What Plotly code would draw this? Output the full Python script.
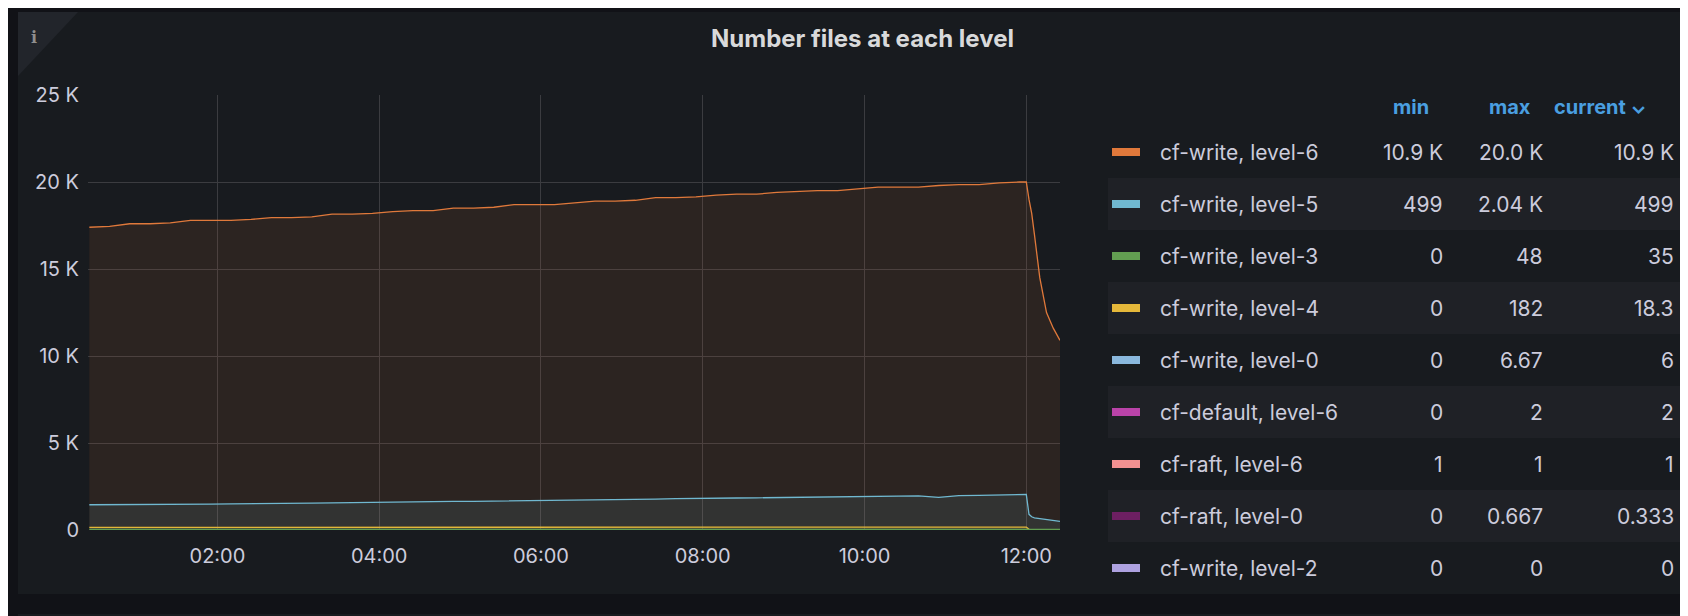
import plotly.graph_objects as go

W, H = 1688, 616
L, R, T, B = 80, 1052, 87, 522

times = ["00:25","00:40","00:55","01:10","01:25","01:40","01:55","02:10","02:25","02:40",
         "02:55","03:10","03:25","03:40","03:55","04:10","04:25","04:40","04:55","05:10",
         "05:25","05:40","05:55","06:10","06:25","06:40","06:55","07:10","07:25","07:40",
         "07:55","08:10","08:25","08:40","08:55","09:10","09:25","09:40","09:55","10:10",
         "10:25","10:40","10:55","11:10","11:25","11:40","11:55","12:00","12:02","12:04",
         "12:06","12:10","12:15","12:20","12:25"]

lvl6 = [17400,17450,17600,17600,17650,17800,17800,17800,17850,17950,
        17950,18000,18150,18150,18200,18300,18350,18350,18500,18500,
        18550,18700,18700,18700,18800,18900,18900,18950,19100,19100,
        19150,19250,19300,19300,19400,19450,19500,19500,19600,19700,
        19700,19700,19800,19850,19850,19950,20000,20000,19000,18200,
        17000,14500,12500,11600,10900]
lvl5 = [1450,1450,1460,1470,1480,1490,1490,1500,1500,1520,
        1530,1540,1560,1580,1590,1600,1610,1620,1640,1650,
        1660,1680,1690,1700,1720,1740,1760,1760,1780,1800,
        1800,1820,1840,1850,1860,1880,1900,1910,1920,1940,
        1950,1960,1880,1970,1990,2000,2040,2040,900,760,
        700,650,600,560,499]
lvl4 = [150,150,150,150,150,150,150,150,150,150,
        150,150,150,150,150,150,150,150,150,150,
        150,160,160,160,160,160,160,160,160,160,
        160,160,160,160,160,182,182,170,170,170,
        170,170,170,170,170,170,170,170,40,20,
        18,18,18,18,18.3]
lvl3 = [40,40,40,40,40,40,40,40,40,40,
        40,40,40,40,40,40,40,40,40,40,
        40,40,40,40,40,40,40,40,40,40,
        40,40,40,40,40,48,48,40,40,40,
        40,40,40,40,40,40,40,40,35,35,
        35,35,35,35,35]

series_names = ["cf-write, level-6","cf-write, level-5","cf-write, level-3","cf-write, level-4",
                "cf-write, level-0","cf-default, level-6","cf-raft, level-6","cf-raft, level-0",
                "cf-write, level-2"]
series_colors = ["#e0793b","#70b8d0","#629e51","#e5b83a","#8ab8dd","#ba43a9","#f29191","#6d1f62","#aea2e0"]
mins = ["10.9 K","499","0","0","0","0","1","0","0"]
maxs = ["20.0 K","2.04 K","48","182","6.67","2","1","0.667","0"]
currents = ["10.9 K","499","35","18.3","6","2","1","0.333","0"]

x = ["2024-01-01 " + t for t in times]

fig = go.Figure()
def rgba(h, a):
    return f"rgba({int(h[1:3],16)},{int(h[3:5],16)},{int(h[5:7],16)},{a})"
for name, col, ys in [(series_names[0], series_colors[0], lvl6),
                      (series_names[1], series_colors[1], lvl5),
                      (series_names[3], series_colors[3], lvl4),
                      (series_names[2], series_colors[2], lvl3)]:
    fig.add_trace(go.Scatter(x=x, y=ys, name=name, mode="lines",
                             line=dict(color=col, width=1.3), fill="tozeroy",
                             fillcolor=rgba(col, 0.1), showlegend=False))

def px(v): return (v - L) / (R - L)
def py(v): return (B - v) / (B - T)

shapes = []
shapes.append(dict(type="rect", xref="paper", yref="paper", x0=px(0), x1=px(W), y0=py(W), y1=py(586),
                   fillcolor="#111217", line_width=0, layer="below"))
shapes.append(dict(type="rect", xref="paper", yref="paper", x0=px(10), x1=px(W), y0=py(W), y1=py(606),
                   fillcolor="#181b1f", line_width=0, layer="below"))
shapes.append(dict(type="rect", xref="paper", yref="paper", x0=px(0), x1=px(10), y0=py(586), y1=py(0),
                   fillcolor="#111217", line_width=0, layer="below"))
shapes.append(dict(type="rect", xref="paper", yref="paper", x0=px(0), x1=px(W), y0=py(4), y1=py(0),
                   fillcolor="#111217", line_width=0, layer="below"))
shapes.append(dict(type="path", xref="paper", yref="paper",
                   path=f"M {px(10)} {py(4)} L {px(70)} {py(4)} L {px(10)} {py(68)} Z",
                   fillcolor="#22252b", line_width=0, layer="below"))

annotations = [dict(text="<b>i</b>", x=px(26), y=py(18), xref="paper", yref="paper", showarrow=False,
                    font=dict(color="#8e8e8e", size=16, family="DejaVu Serif"), xanchor="center")]
annotations.append(dict(text="<b>Number files at each level</b>", x=px(854), y=py(31), xref="paper", yref="paper",
                        showarrow=False, font=dict(color="#d8d9da", size=24), xanchor="center", yanchor="middle"))
hdr_col = "#4a9fe0"
for txt, xr in [("<b>min</b>", 1423), ("<b>max</b>", 1525), ("<b>current ⌄</b>", 1641)]:
    annotations.append(dict(text=txt, x=px(xr), y=py(99), xref="paper", yref="paper", showarrow=False,
                            font=dict(color=hdr_col, size=20), xanchor="right", yanchor="middle"))
rows_y = [144, 196, 248, 300, 352, 404, 456, 508, 560]
for i, ry in enumerate(rows_y):
    if i % 2 == 1:
        shapes.append(dict(type="rect", xref="paper", yref="paper", x0=px(1100), x1=px(1680), y0=py(ry + 26),
                           y1=py(ry - 26), fillcolor="#1f2126", line_width=0, layer="below"))
    shapes.append(dict(type="rect", xref="paper", yref="paper", x0=px(1104), x1=px(1132), y0=py(ry + 4),
                       y1=py(ry - 4), fillcolor=series_colors[i], line_width=0))
    annotations.append(dict(text=series_names[i], x=px(1150), y=py(ry), xref="paper", yref="paper",
                            showarrow=False, font=dict(color="#ccccdc", size=21), xanchor="left", yanchor="middle"))
    for txt, xr in [(mins[i], 1437), (maxs[i], 1537), (currents[i], 1668)]:
        annotations.append(dict(text=txt, x=px(xr), y=py(ry), xref="paper", yref="paper", showarrow=False,
                                font=dict(color="#ccccdc", size=21), xanchor="right", yanchor="middle"))

fig.update_layout(
    width=W, height=H, margin=dict(l=L, r=W - R, t=T, b=H - B),
    paper_bgcolor="#181b1f", plot_bgcolor="#181b1f",
    font=dict(family="Inter, Roboto, sans-serif", color="#ccccdc", size=20),
    shapes=shapes, annotations=annotations, showlegend=False,
    xaxis=dict(type="date", range=["2024-01-01 00:24", "2024-01-01 12:25"],
               tickvals=["2024-01-01 02:00","2024-01-01 04:00","2024-01-01 06:00",
                         "2024-01-01 08:00","2024-01-01 10:00","2024-01-01 12:00"],
               ticktext=["02:00","04:00","06:00","08:00","10:00","12:00"],
               showgrid=True, gridcolor="#3b3c40", gridwidth=1, zeroline=False, showline=False,
               ticks="", ticklabelstandoff=12),
    yaxis=dict(range=[0, 25000], tickvals=[0, 5000, 10000, 15000, 20000, 25000],
               ticktext=["0", "5 K", "10 K", "15 K", "20 K", "25 K"],
               showgrid=True, gridcolor="#3b3c40", zeroline=False, showline=False, ticks="",
               ticklabelstandoff=8),
)
fig.write_html("out.html")
